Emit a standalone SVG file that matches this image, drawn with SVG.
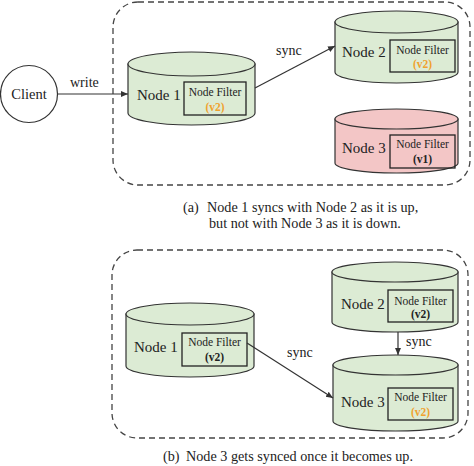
<svg xmlns="http://www.w3.org/2000/svg" width="474" height="466" viewBox="0 0 474 466">
<style>
text{font-family:"Liberation Serif","Times New Roman",serif;fill:#222}
.frame{fill:none;stroke:#444;stroke-width:1.3;stroke-dasharray:6 4}
.cyl{stroke:#333;stroke-width:1.2}
.g{fill:#dcebd4}
.p{fill:#f3c6c6}
.fb{fill:none;stroke:#222;stroke-width:1.3}
.nl{font-size:15px}
.fl{font-size:11.5px;text-anchor:middle}
.v{font-size:11.5px;text-anchor:middle;font-weight:bold}
.o{fill:#f0a22e}
.lbl{font-size:14px}
.cap{font-size:14.2px}
.con{stroke:#333;stroke-width:1.2;fill:none;marker-end:url(#ah)}
</style>
<defs>
<marker id="ah" markerWidth="8" markerHeight="8" refX="7" refY="4" orient="auto" markerUnits="userSpaceOnUse">
<path d="M0,1 L7,4 L0,7 Z" fill="#333"/>
</marker>
</defs>
<rect class="frame" x="113" y="2" width="357" height="183" rx="25"/>
<rect class="frame" x="112" y="250" width="356" height="188" rx="25"/>
<g id="client">
<circle cx="29" cy="94" r="28.5" fill="#fff" stroke="#333" stroke-width="1.2"/>
<text x="29" y="99" font-size="14.5" text-anchor="middle">Client</text>
</g>
<g id="node1a">
<path class="cyl g" d="M128,64 L128,113 A63.5,12 0 0 0 255,113 L255,64 Z"/>
<ellipse class="cyl g" cx="191.5" cy="64" rx="63.5" ry="12"/>
<text class="nl" x="137" y="100">Node 1</text>
<rect class="fb" x="184" y="82" width="62" height="33"/>
<text class="fl" x="215" y="96">Node Filter</text>
<text class="v o" x="215" y="111">(v2)</text>
</g>
<g id="node2a">
<path class="cyl g" d="M335,22 L335,72 A61.5,11 0 0 0 458,72 L458,22 Z"/>
<ellipse class="cyl g" cx="396.5" cy="22" rx="61.5" ry="11"/>
<text class="nl" x="342" y="57">Node 2</text>
<rect class="fb" x="390" y="40" width="65" height="32"/>
<text class="fl" x="422.5" y="54">Node Filter</text>
<text class="v o" x="422.5" y="68">(v2)</text>
</g>
<g id="node3a">
<path class="cyl p" d="M335,119 L335,163 A61.5,10 0 0 0 458,163 L458,119 Z"/>
<ellipse class="cyl p" cx="396.5" cy="119" rx="61.5" ry="10"/>
<text class="nl" x="342" y="153">Node 3</text>
<rect class="fb" x="390" y="135" width="65" height="33"/>
<text class="fl" x="422.5" y="148">Node Filter</text>
<text class="v" x="422.5" y="163">(v1)</text>
</g>
<g id="node1b">
<path class="cyl g" d="M126,314 L126,366 A64,11 0 0 0 254,366 L254,314 Z"/>
<ellipse class="cyl g" cx="190" cy="314" rx="64" ry="11"/>
<text class="nl" x="134" y="352">Node 1</text>
<rect class="fb" x="182" y="333" width="65" height="33"/>
<text class="fl" x="214.5" y="346">Node Filter</text>
<text class="v" x="214.5" y="361">(v2)</text>
</g>
<g id="node2b">
<path class="cyl g" d="M332,272 L332,322 A63,10 0 0 0 458,322 L458,272 Z"/>
<ellipse class="cyl g" cx="395" cy="272" rx="63" ry="10"/>
<text class="nl" x="341" y="309">Node 2</text>
<rect class="fb" x="388" y="290" width="65" height="32"/>
<text class="fl" x="420.5" y="305">Node Filter</text>
<text class="v" x="420.5" y="318">(v2)</text>
</g>
<g id="node3b">
<path class="cyl g" d="M333,365 L333,421 A62.5,10 0 0 0 458,421 L458,365 Z"/>
<ellipse class="cyl g" cx="395.5" cy="365" rx="62.5" ry="10"/>
<text class="nl" x="341" y="407">Node 3</text>
<rect class="fb" x="388" y="388" width="65" height="32"/>
<text class="fl" x="420.5" y="401">Node Filter</text>
<text class="v o" x="420.5" y="416">(v2)</text>
</g>
<g id="connectors">
<line class="con" x1="57.5" y1="94" x2="128" y2="94"/>
<line class="con" x1="255" y1="88" x2="335" y2="46"/>
<line class="con" x1="247" y1="343" x2="333" y2="398"/>
<line class="con" x1="398" y1="332" x2="398" y2="355"/>
<text class="lbl" x="70" y="87">write</text>
<text class="lbl" x="276" y="55">sync</text>
<text class="lbl" x="287" y="357">sync</text>
<text class="lbl" x="406" y="346">sync</text>
</g>
<g id="captions">
<text class="cap" x="183" y="212">(a)<tspan x="207">Node 1 syncs with Node 2 as it is up,</tspan></text>
<text class="cap" x="209" y="228">but not with Node 3 as it is down.</text>
<text class="cap" x="163" y="461">(b)<tspan x="186">Node 3 gets synced once it becomes up.</tspan></text>
</g>
</svg>
